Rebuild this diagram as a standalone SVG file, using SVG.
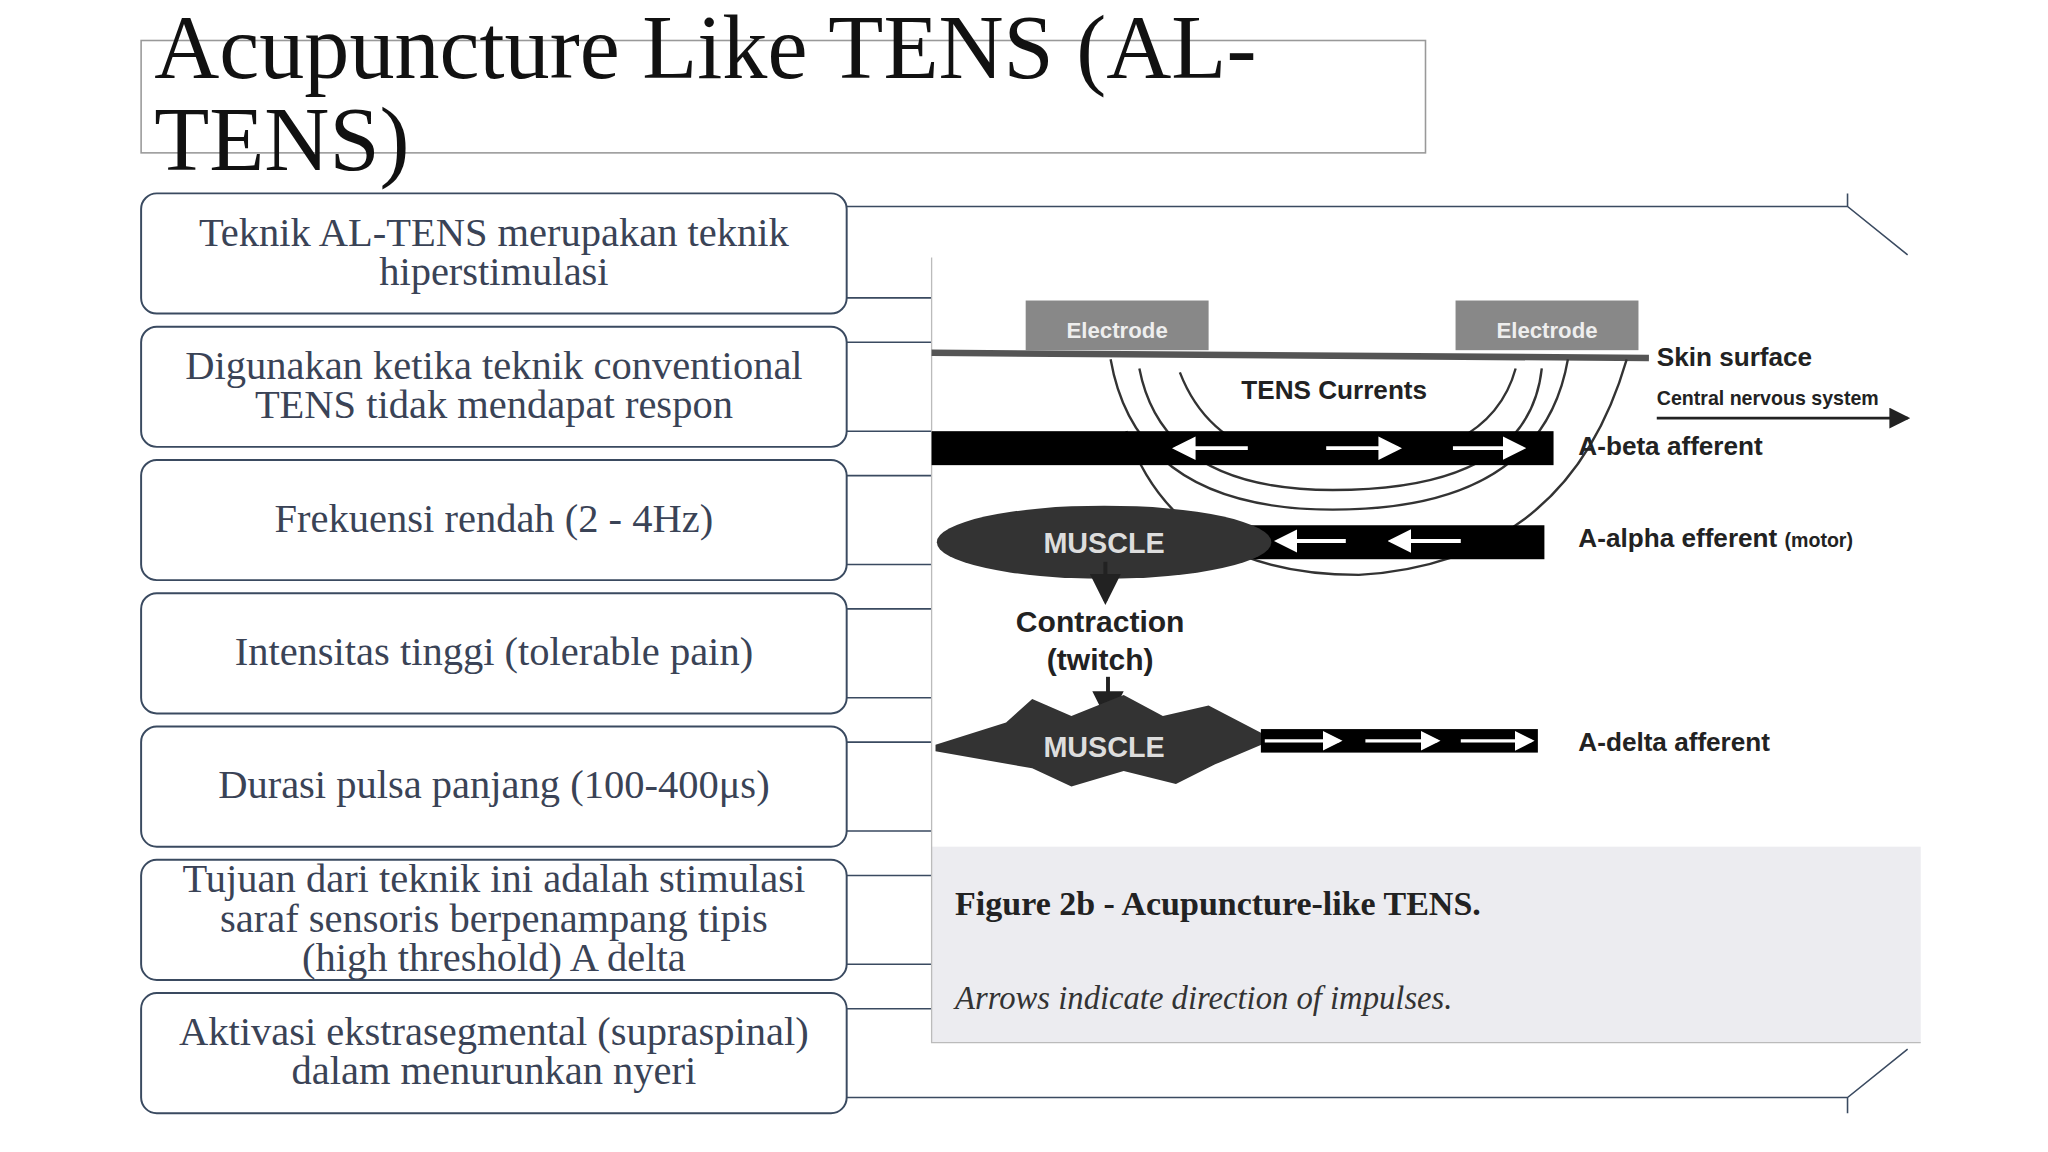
<svg xmlns="http://www.w3.org/2000/svg" width="2048" height="1152" viewBox="0 0 2048 1152">
<style>
.box{fill:#fff;stroke:#3a4a60;stroke-width:1.5}
.bt{font-family:"Liberation Serif",serif;font-size:31px;fill:#3a4356;text-anchor:middle}
.fl{font-family:"Liberation Sans",sans-serif;font-weight:bold;fill:#222}
.ln{stroke:#3a4a60;stroke-width:1.2;fill:none}
</style>
<defs><marker id="ah" markerWidth="8" markerHeight="8" refX="7" refY="4" orient="auto"><path d="M0,0L8,4L0,8z" fill="#222"/></marker>
<marker id="wh" markerWidth="6" markerHeight="6" refX="5" refY="3" orient="auto"><path d="M0,0L6,3L0,6z" fill="#fff"/></marker></defs>
<rect width="2048" height="1152" fill="#fff"/>
<g transform="scale(1.3066)">
<g id="title"><rect x="108" y="31" width="983" height="86" fill="none" stroke="#999" stroke-width="1.2"/>
<text x="118" y="60" font-family="Liberation Serif,serif" font-size="69" fill="#111">Acupuncture Like TENS (AL-</text>
<text x="118" y="130" font-family="Liberation Serif,serif" font-size="69" fill="#111">TENS)</text></g>
<g id="connectors">
<path class="ln" d="M648,158H1414L1460,195M1414,148L1414,158"/>
<path class="ln" d="M648,840H1414L1460,803M1414,852L1414,840"/>
<path class="ln" d="M648,228H713M648,262H713M648,330H713M648,364H713M648,432H713M648,466H713M648,534H713M648,568H713M648,636H713M648,670H713M648,738H713M648,772H713"/>
</g>
<g id="n1"><rect class="box" x="108" y="148" width="540" height="92" rx="12"/><text class="bt" x="378" y="188">Teknik AL-TENS merupakan teknik</text><text class="bt" x="378" y="218">hiperstimulasi</text></g>
<g id="n2"><rect class="box" x="108" y="250" width="540" height="92" rx="12"/><text class="bt" x="378" y="290">Digunakan ketika teknik conventional</text><text class="bt" x="378" y="320">TENS tidak mendapat respon</text></g>
<g id="n3"><rect class="box" x="108" y="352" width="540" height="92" rx="12"/><text class="bt" x="378" y="407">Frekuensi rendah (2 - 4Hz)</text></g>
<g id="n4"><rect class="box" x="108" y="454" width="540" height="92" rx="12"/><text class="bt" x="378" y="509">Intensitas tinggi (tolerable pain)</text></g>
<g id="n5"><rect class="box" x="108" y="556" width="540" height="92" rx="12"/><text class="bt" x="378" y="611">Durasi pulsa panjang (100-400μs)</text></g>
<g id="n6"><rect class="box" x="108" y="658" width="540" height="92" rx="12"/><text class="bt" x="378" y="683">Tujuan dari teknik ini adalah stimulasi</text><text class="bt" x="378" y="713">saraf sensoris berpenampang tipis</text><text class="bt" x="378" y="743">(high threshold) A delta</text></g>
<g id="n7"><rect class="box" x="108" y="760" width="540" height="92" rx="12"/><text class="bt" x="378" y="800">Aktivasi ekstrasegmental (supraspinal)</text><text class="bt" x="378" y="830">dalam menurunkan nyeri</text></g>
<g id="figure">
<rect x="713" y="197" width="757" height="601" fill="#fff"/>
<rect x="713" y="648" width="757" height="150" fill="#ececf0"/>
<path d="M713,197V798H1470" stroke="#bbb" fill="none"/>
<rect x="785" y="230" width="140" height="38" fill="#888"/><text x="855" y="259" text-anchor="middle" class="fl" font-size="17" style="fill:#eee">Electrode</text>
<rect x="1114" y="230" width="140" height="38" fill="#888"/><text x="1184" y="259" text-anchor="middle" class="fl" style="fill:#eee" font-size="17">Electrode</text>
<path d="M713,270L1262,274" stroke="#555" stroke-width="5"/>
<text x="1268" y="280" class="fl" font-size="20">Skin surface</text>
<text x="1268" y="310" class="fl" font-size="15">Central nervous system</text>
<path d="M1268,320H1460" stroke="#222" stroke-width="2" marker-end="url(#ah)"/>
<text x="950" y="305" class="fl" font-size="20">TENS Currents</text>
<g fill="none" stroke="#333" stroke-width="1.8">
<path d="M850,275Q870,390 1020,390Q1180,390 1200,275"/>
<path d="M872,282Q890,375 1020,375Q1170,375 1180,282"/>
<path d="M903,285Q930,355 1020,355Q1140,355 1160,282"/>
<path d="M862,330Q900,440 1040,440Q1200,430 1245,275"/>
</g>
<rect x="713" y="330" width="476" height="26" fill="#000"/>
<g stroke="#fff" stroke-width="3"><path d="M955,343H900" marker-end="url(#wh)"/><path d="M1015,343H1070" marker-end="url(#wh)"/><path d="M1112,343H1165" marker-end="url(#wh)"/></g>
<text x="1208" y="348" class="fl" font-size="20">A-beta afferent</text>
<rect x="950" y="402" width="232" height="26" fill="#000"/>
<ellipse cx="845" cy="415" rx="128" ry="28" fill="#333"/>
<text x="845" y="423" text-anchor="middle" class="fl" style="fill:#ddd" font-size="22">MUSCLE</text>
<g stroke="#fff" stroke-width="3"><path d="M1030,414H978" marker-end="url(#wh)"/><path d="M1118,414H1065" marker-end="url(#wh)"/></g>
<text x="1208" y="419" class="fl" font-size="20">A-alpha efferent <tspan font-size="15">(motor)</tspan></text>
<path d="M846,430V460" stroke="#222" stroke-width="3" marker-end="url(#ah)"/>
<text x="842" y="484" text-anchor="middle" class="fl" font-size="23">Contraction</text>
<text x="842" y="513" text-anchor="middle" class="fl" font-size="23">(twitch)</text>
<path d="M848,518V550" stroke="#222" stroke-width="3" marker-end="url(#ah)"/>
<path d="M716,570L770,553L790,535L820,548L860,532L890,548L925,540L975,566L930,585L900,600L860,590L820,602L790,588L716,575z" fill="#333"/>
<text x="845" y="579" text-anchor="middle" class="fl" style="fill:#ddd" font-size="22">MUSCLE</text>
<rect x="965" y="558" width="212" height="18" fill="#000"/>
<g stroke="#fff" stroke-width="2.5"><path d="M968,567H1025" marker-end="url(#wh)"/><path d="M1045,567H1100" marker-end="url(#wh)"/><path d="M1118,567H1172" marker-end="url(#wh)"/></g>
<text x="1208" y="575" class="fl" font-size="20">A-delta afferent</text>
<text x="731" y="700" font-family="Liberation Serif,serif" font-weight="bold" font-size="26" fill="#222">Figure 2b - Acupuncture-like TENS.</text>
<text x="731" y="772" font-family="Liberation Serif,serif" font-style="italic" font-size="25" fill="#333">Arrows indicate direction of impulses.</text>
</g>
</g>
</svg>
